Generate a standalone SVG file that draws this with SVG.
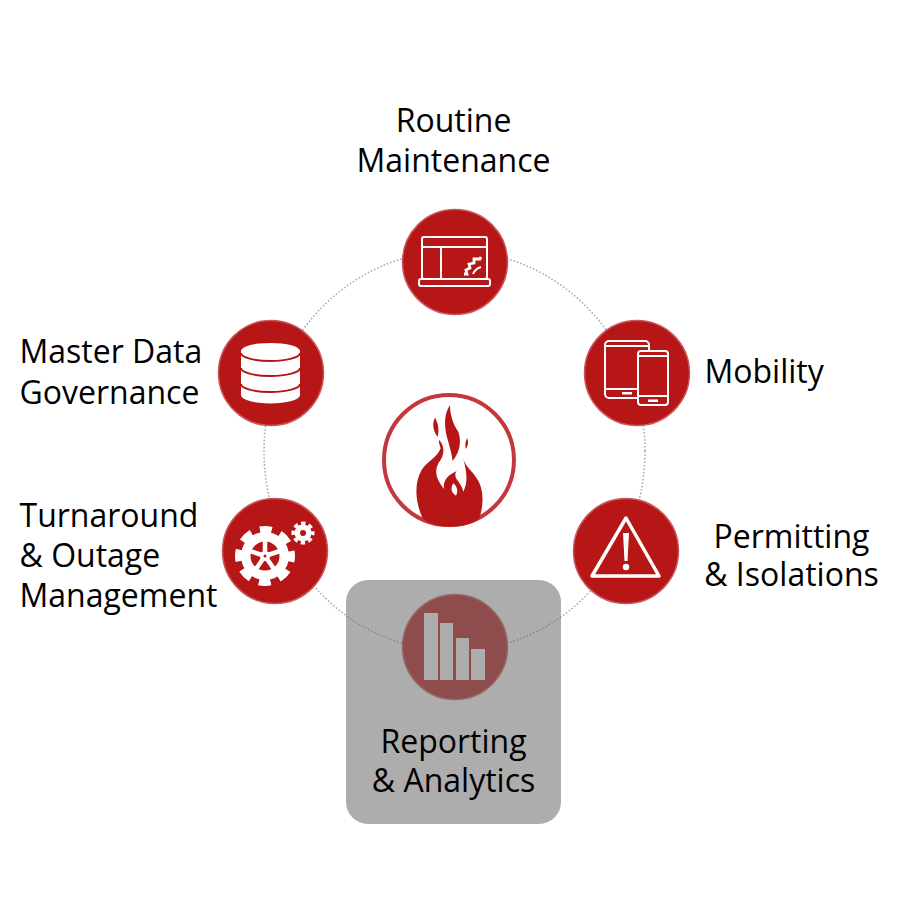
<svg xmlns="http://www.w3.org/2000/svg" width="900" height="900" viewBox="0 0 900 900">
<style>
text{font-family:"Open Sans","Noto Sans","DejaVu Sans",sans-serif;font-size:32px;fill:#000}
.m{text-anchor:middle}
.disc{fill:#b71616;stroke:#c9565a;stroke-width:1.5;filter:url(#soft)}
.w{fill:#fff}
.l{fill:none;stroke:#fff;stroke-width:2;stroke-linejoin:round}
.r{fill:none;stroke:#b71616;stroke-width:2}
.fl{fill:#b71616}
</style>
<defs><filter id="soft" x="-5%" y="-5%" width="110%" height="110%"><feGaussianBlur stdDeviation="0.6"/></filter></defs>
<rect width="900" height="900" fill="#fff"/>
<g id="connectors"><ellipse cx="454.5" cy="451" rx="190.5" ry="200" fill="none" stroke="#a5a5a5" stroke-width="1.5" stroke-dasharray="1.5 2"/></g>

<g id="center" filter="url(#soft)">
<circle cx="449" cy="460" r="65" fill="#fff" stroke="#c4383c" stroke-width="4"/>
<g transform="translate(370 385) scale(.3333)" class="fl">
<path d="M158,400C135,350 132,295 155,255C170,230 200,220 212,190C208,175 205,170 208,165C225,185 225,210 205,235C190,265 205,290 222,312C218,285 235,270 260,258C245,280 275,290 280,320C295,290 290,260 280,222C290,250 305,255 320,280C342,310 342,360 328,400C290,434 190,434 158,400Z"/>
<path d="M250,295C240,310 245,325 258,332C265,320 262,305 250,295Z" fill="#fff"/>
<path d="M240,60C220,90 222,130 235,170C240,190 245,205 248,228C270,200 275,170 265,140C250,120 240,90 240,60Z"/>
<path d="M195,98C185,115 190,140 203,155C208,135 205,115 195,98Z"/>
<path d="M292,160C285,170 285,185 288,192C295,180 296,170 292,160Z"/>
</g>
</g>

<g id="routine-maintenance">
<circle class="disc" cx="455" cy="262" r="52.500"/>
<rect class="l" x="422" y="237" width="65" height="42" rx="2"/>
<path class="l" d="M422,247H487M441,247V279"/>
<rect class="l" x="419" y="279" width="71" height="7" rx="2"/>
<path d="M464,274H467L466,270L470,268L469,264L474,263L474,259L480,259L481,257" fill="none" stroke="#fff" stroke-width="2.800"/>
<path d="M473,274Q475,269 481,267" fill="none" stroke="#fff" stroke-width="2"/>
<text class="m" x="453.500" y="132">Routine</text>
<text class="m" x="453.500" y="172">Maintenance</text>
</g>

<g id="mobility">
<circle class="disc" cx="637" cy="373" r="52.500"/>
<rect class="l" x="605" y="341" width="44" height="57" rx="4"/>
<path class="l" d="M605,346H649M605,389H649"/>
<rect class="w" x="622" y="392" width="10" height="2.500"/>
<rect x="638" y="351" width="30" height="54" rx="3" fill="#b71616" stroke="#fff" stroke-width="2"/>
<path class="l" d="M638,356H668M638,396H668"/>
<rect class="w" x="648" y="399.500" width="10" height="2.500"/>
<text x="704.500" y="383">Mobility</text>
</g>

<g id="permitting-isolations">
<circle class="disc" cx="626" cy="551" r="52.500"/>
<path d="M626,518L659,576H592Z" fill="none" stroke="#fff" stroke-width="3.500" stroke-linejoin="round"/>
<path class="w" d="M623,533H629L627.500,561H624.500Z"/>
<circle class="w" cx="626" cy="567" r="3.200"/>
<text class="m" x="791.500" y="548">Permitting</text>
<text class="m" x="791.500" y="586">&amp; Isolations</text>
</g>

<g id="reporting-analytics">
<circle class="disc" cx="455" cy="647" r="52.500"/>
<rect class="w" x="424" y="613" width="14" height="67"/>
<rect class="w" x="440" y="623" width="13" height="57"/>
<rect class="w" x="456" y="638" width="13" height="42"/>
<rect class="w" x="471" y="649" width="14" height="31"/>
<rect x="346" y="580" width="215" height="244" rx="22" fill="#727272" fill-opacity=".583"/>
<text class="m" x="453.500" y="753">Reporting</text>
<text class="m" x="453.500" y="792">&amp; Analytics</text>
</g>

<g id="turnaround-outage">
<circle class="disc" cx="275" cy="551" r="52.500"/>
<circle class="w" cx="265" cy="556" r="24"/>
<circle cx="265" cy="556" r="26.500" fill="none" stroke="#fff" stroke-width="7" stroke-linejoin="round" stroke-dasharray="12 8.810" stroke-dashoffset="6"/>
<circle cx="265" cy="556" r="14.500" fill="#b71616"/>
<path d="M265,556V540M265,556L280,551M265,556L274,569M265,556L256,569M265,556L250,551" stroke="#fff" stroke-width="4.500"/>
<circle class="w" cx="265" cy="556" r="5"/>
<circle cx="265" cy="556" r="1.500" fill="#b71616"/>
<circle class="w" cx="303" cy="533" r="8.500"/>
<circle cx="303" cy="533" r="9.500" fill="none" stroke="#fff" stroke-width="4" stroke-dasharray="4.200 3.260" stroke-dashoffset="2.100"/>
<circle cx="303" cy="533" r="3" fill="#b71616"/>
<text x="19.500" y="527">Turnaround</text>
<text x="19.500" y="567">&amp; Outage</text>
<text x="19.500" y="607">Management</text>
</g>

<g id="master-data">
<circle class="disc" cx="271" cy="373" r="52.500"/>
<path class="w" d="M241,351A29.500,8 0 0 1 300,351V395A29.500,8.500 0 0 1 241,395Z"/>
<path class="r" d="M241,353A29.500,8 0 0 0 300,353M241,368A29.500,8 0 0 0 300,368M241,384A29.500,8 0 0 0 300,384"/>
<text x="19.500" y="363">Master Data</text>
<text x="19.500" y="404">Governance</text>
</g>
</svg>
